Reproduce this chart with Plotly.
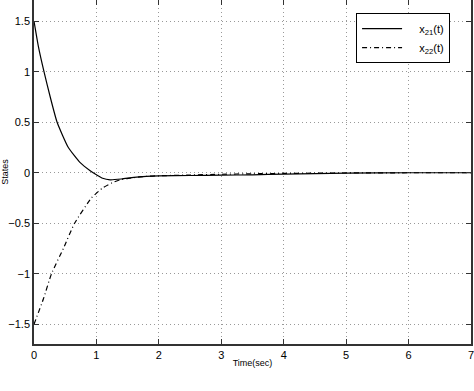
import plotly.graph_objects as go

t21 = [0, 0.07, 0.16, 0.26, 0.37, 0.55, 0.74, 0.9, 1.0, 1.1, 1.22, 1.4, 1.6, 1.8, 2.0, 2.5, 3.0, 3.5, 4.0, 4.5, 5.0, 6.0, 7.0]
x21 = [1.5, 1.25, 1.0, 0.75, 0.5, 0.25, 0.1, 0.02, -0.02, -0.055, -0.07, -0.062, -0.045, -0.035, -0.03, -0.027, -0.024, -0.02, -0.013, -0.008, -0.004, 0.0, 0.0]

t22 = [0, 0.15, 0.28, 0.47, 0.65, 0.92, 1.1, 1.25, 1.38, 1.6, 1.8, 2.0, 2.5, 3.0, 3.5, 4.0, 4.5, 5.0, 6.0, 7.0]
x22 = [-1.5, -1.25, -1.0, -0.75, -0.5, -0.25, -0.15, -0.1, -0.07, -0.048, -0.036, -0.03, -0.022, -0.015, -0.01, -0.007, -0.004, -0.002, 0.0, 0.0]

series_names = ["x<sub>21</sub>(t)", "x<sub>22</sub>(t)"]

xticks = [0, 1, 2, 3, 4, 5, 6, 7]
yticks = [-1.5, -1, -0.5, 0, 0.5, 1, 1.5]
ytick_text = ["\u22121.5", "\u22121", "\u22120.5", "0", "0.5", "1", "1.5"]

pad = "\u00a0" * 4
fig = go.Figure()
fig.add_trace(go.Scatter(x=t21, y=x21, mode="lines", name=pad + series_names[0],
                         line=dict(color="black", width=1.2, shape="spline", smoothing=0.5)))
fig.add_trace(go.Scatter(x=t22, y=x22, mode="lines", name=pad + series_names[1],
                         line=dict(color="black", width=1.2, dash="5px,3px,1px,3px", shape="spline", smoothing=0.5)))

axis_common = dict(showline=True, linecolor="#333", linewidth=1.5, mirror="ticks",
                   ticks="inside", ticklen=5, tickcolor="#333", automargin=False,
                   showgrid=True, gridcolor="#999", gridwidth=1, griddash="1px,3px",
                   ticklabeloverflow="allow",
                   zeroline=False, tickfont=dict(family="Liberation Sans, Arial", size=11, color="black"))

fig.update_layout(
    width=474, height=391,
    margin=dict(l=34, r=3, t=0, b=47),
    paper_bgcolor="white", plot_bgcolor="white",
    xaxis=dict(range=[0, 7], tickvals=xticks, **axis_common,
               title=dict(text="Time(sec)", font=dict(family="Liberation Sans, Arial", size=9, color="black"), standoff=0)),
    yaxis=dict(range=[-1.695, 1.71], tickvals=yticks, ticktext=ytick_text, **axis_common,
               title=dict(text="States", font=dict(family="Liberation Sans, Arial", size=9, color="black"), standoff=2)),
    legend=dict(x=0.737, y=0.962, xanchor="left", yanchor="top",
                bordercolor="black", borderwidth=1, bgcolor="white",
                font=dict(family="Liberation Sans, Arial", size=11, color="black"),
                tracegroupgap=0, itemwidth=40),
    showlegend=True,
)

fig.add_annotation(text="<b>Fig. 5</b>    State responses of subsystem 2",
                   xref="paper", yref="paper", x=0.52, y=-0.128, xanchor="center", yanchor="top",
                   showarrow=False, font=dict(family="Liberation Serif, Times New Roman", size=14, color="black"))

fig.write_html("out.html", config={"displayModeBar": False},
               post_script="document.body.style.margin='0';document.body.style.overflow='hidden';")
